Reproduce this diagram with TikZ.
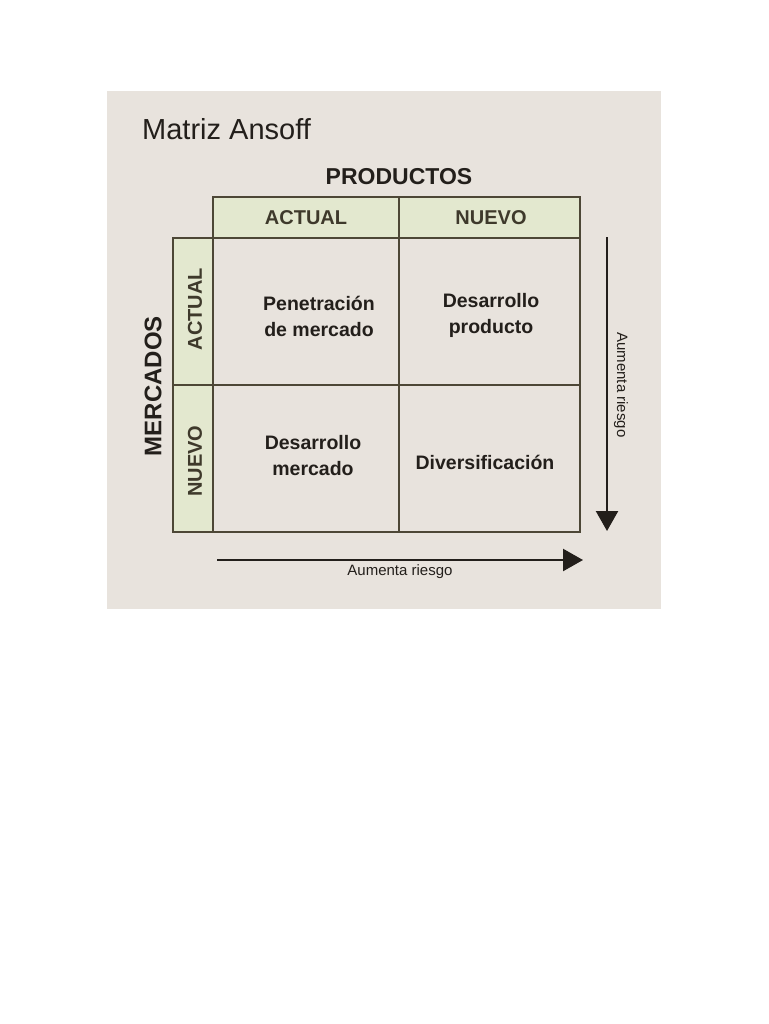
\documentclass[tikz,border=0pt]{standalone}
\usepackage{fontspec}
\setmainfont{Liberation Sans}
\usetikzlibrary{arrows.meta}
\definecolor{panelbg}{HTML}{E8E3DD}
\definecolor{headgreen}{HTML}{E3E8CF}
\definecolor{gridline}{HTML}{4D4736}
\definecolor{inkdark}{HTML}{231F1B}
\tikzset{
  cellbox/.style={draw=gridline, line width=1.3pt, fill=panelbg, inner sep=0pt, rectangle},
  headbox/.style={draw=gridline, line width=1.3pt, fill=headgreen, inner sep=0pt, rectangle},
  headtxt/.style={font=\fontsize{20}{22}\selectfont\bfseries, text=gridline!80!black, inner sep=0pt},
  celltxt/.style={font=\fontsize{19.5}{26}\selectfont\bfseries, text=inkdark, align=center, inner sep=0pt},
  risk/.style={-{Triangle[width=22pt,length=20pt]}, line width=2.4pt, draw=inkdark},
  risktxt/.style={font=\fontsize{15}{17}\selectfont, text=inkdark, inner sep=0pt}
}
\begin{document}
\begin{tikzpicture}[x=1pt,y=-1pt]
\useasboundingbox (0,0) rectangle (768,1024);
\fill[white] (0,0) rectangle (768,1024);
\fill[panelbg] (107,91) rectangle (661,609);
% title
\node[anchor=base west, font=\fontsize{29}{32}\selectfont, text=inkdark, inner sep=0pt] (title) at (142,140) {Matriz Ansoff};
\node[font=\fontsize{23}{25}\selectfont\bfseries, text=inkdark, inner sep=0pt] (prod) at (399,177) {PRODUCTOS};
\node[font=\fontsize{24}{26}\selectfont\bfseries, text=inkdark, inner sep=0pt, rotate=90] (merc) at (153,386) {MERCADOS};
% headers
\node[headbox, minimum width=186pt, minimum height=41pt] (hA) at (306,217.5) {};
\node[headbox, minimum width=181pt, minimum height=41pt] (hN) at (489.5,217.5) {};
\node[headbox, minimum width=40pt, minimum height=147pt] (rA) at (193,311.5) {};
\node[headbox, minimum width=40pt, minimum height=147pt] (rN) at (193,458.5) {};
\node[headtxt] (hAt) at (306,218) {ACTUAL};
\node[headtxt] (hNt) at (491,218) {NUEVO};
\node[headtxt, rotate=90] (rAt) at (195,309) {ACTUAL};
\node[headtxt, rotate=90] (rNt) at (195,461) {NUEVO};
% cells
\node[cellbox, minimum width=186pt, minimum height=147pt] (c11) at (306,311.5) {};
\node[cellbox, minimum width=181pt, minimum height=147pt] (c12) at (489.5,311.5) {};
\node[cellbox, minimum width=186pt, minimum height=147pt] (c21) at (306,458.5) {};
\node[cellbox, minimum width=181pt, minimum height=147pt] (c22) at (489.5,458.5) {};
\node[celltxt] (t11) at (319,316) {Penetración\\de mercado};
\node[celltxt] (t12) at (491,315) {Desarrollo\\producto};
\node[celltxt] (t21) at (313,456) {Desarrollo\\mercado};
\node[celltxt] (t22) at (485,462) {Diversificación};
% arrows
\coordinate (vS) at (607,237);
\coordinate (vE) at (607,531);
\coordinate (hS) at (217,560);
\coordinate (hE) at (583,560);
\draw[risk] (vS) -- (vE);
\draw[risk] (hS) -- (hE);
\node[risktxt, rotate=-90] (vlab) at (621,385) {Aumenta riesgo};
\node[risktxt] (hlab) at (400,572) {Aumenta riesgo};
\end{tikzpicture}
\end{document}
